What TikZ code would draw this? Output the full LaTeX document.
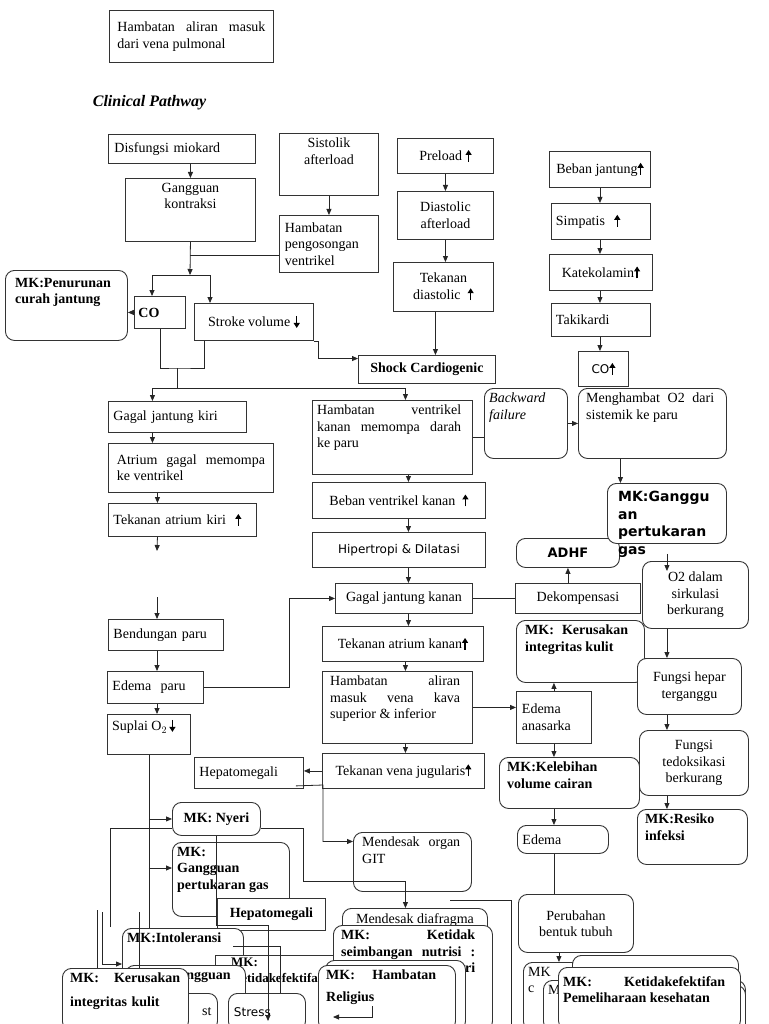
\documentclass[tikz,border=0pt]{standalone}
\usepackage{fontspec}
\setmainfont{Liberation Serif}
\newfontfamily\sansf{DejaVu Sans}
\usepackage{tikz}
\usetikzlibrary{positioning,arrows.meta}
\hyphenpenalty=10000
\exhyphenpenalty=10000
\newcommand{\naik}{\tikz[baseline=0pt]\draw[line width=1.3pt,-{Triangle[length=5pt,width=6pt]}] (0pt,-1pt) -- (0pt,11pt);}
\newcommand{\turun}{\tikz[baseline=0pt]\draw[line width=1.3pt,-{Triangle[length=5pt,width=6pt]}] (0pt,11pt) -- (0pt,-1pt);}

\begin{document}
\fontsize{14}{16.5}\selectfont
\begin{tikzpicture}[x=1pt,y=-1pt,
	kotak/.style={draw=black!80, line width=0.9pt, fill=white, inner sep=4pt, anchor=north west},
	bulat/.style={kotak, rounded corners=9pt},
	isi/.style={anchor=north west, inner sep=5pt},
	tengah/.style={anchor=north, inner sep=5pt, align=center},
	tebal/.style={font=\bfseries},
	sans/.style={font=\sansf\fontsize{12}{15}\selectfont},
	panah/.style={draw=black!85, line width=0.8pt, -{Triangle[length=6pt,width=5pt]}},
	garis/.style={draw=black!85, line width=0.8pt}]
	\fill[white] (0,0) rectangle (768,1024);
	\useasboundingbox (0,0) rectangle (768,1024);

	\node[kotak, minimum width=164pt, minimum height=52pt, text width=148pt, align=justify] (hav) at (109,10) {Hambatan aliran masuk dari vena pulmonal};
	\node[anchor=west, font=\bfseries\itshape\fontsize{16}{18}\selectfont] (judul) at (88,103) {Clinical Pathway};

	% kolom kiri atas
	\node[kotak, minimum width=147pt, minimum height=29pt, text width=135pt, align=left] (dm) at (108,134) {Disfungsi miokard};
	\node[kotak, minimum width=130pt, minimum height=63pt, label={[tengah]north:{Gangguan\\kontraksi}}] (gk) at (125,178) {};
	\node[kotak, minimum width=99pt, minimum height=62pt, label={[tengah]north:{Sistolik\\afterload}}] (sa) at (279,133) {};
	\node[kotak, minimum width=99pt, minimum height=57pt, text width=88pt, align=left] (hp) at (279,215) {Hambatan\\pengosongan\\ventrikel};
	\node[kotak, minimum width=96pt, minimum height=35pt] (pre) at (397,138) {Preload \naik};
	\node[kotak, minimum width=96pt, minimum height=48pt, align=center] (da) at (397,191) {Diastolic\\afterload};
	\node[kotak, minimum width=100pt, minimum height=49pt, align=center] (td) at (393,262) {Tekanan\\diastolic \ \naik};
	\node[kotak, minimum width=101pt, minimum height=36pt] (bj) at (549,151) {Beban jantung\naik};
	\node[kotak, minimum width=99pt, minimum height=36pt, text width=90pt, align=left] (si) at (551,203) {Simpatis \ \naik};
	\node[kotak, minimum width=103pt, minimum height=36pt] (ka) at (549,254) {Katekolamin\naik};
	\node[kotak, minimum width=99pt, minimum height=33pt, text width=90pt, align=left] (ta) at (551,303) {Takikardi};
	\node[kotak, minimum width=50pt, minimum height=35pt, sans] (coup) at (578,351) {CO\naik};

	\node[bulat, minimum width=122pt, minimum height=70pt, label={[isi, tebal, align=left, xshift=5pt, yshift=-3pt]north west:{MK:Penurunan\\curah jantung}}] (mkpj) at (5,270) {};
	\node[kotak, minimum width=51pt, minimum height=32pt, tebal, text width=43pt, align=left] (co) at (134,296) {CO};
	\node[kotak, minimum width=119pt, minimum height=37pt] (sv) at (194,303) {Stroke volume \turun};
	\node[kotak, minimum width=137pt, minimum height=28pt, tebal] (sc) at (358,355) {Shock Cardiogenic};

	% jantung kiri
	\node[kotak, minimum width=138pt, minimum height=31pt, text width=128pt, align=left] (gjki) at (108,401) {Gagal jantung kiri};
	\node[kotak, minimum width=165pt, minimum height=49pt, text width=148pt, align=justify] (agm) at (108,443) {Atrium gagal memompa ke ventrikel};
	\node[kotak, minimum width=148pt, minimum height=33pt, text width=138pt, align=left] (tak) at (108,503) {Tekanan atrium kiri \ \naik};
	\node[kotak, minimum width=115pt, minimum height=31pt, text width=105pt, align=left] (bp) at (108,619) {Bendungan paru};
	\node[kotak, minimum width=96pt, minimum height=32pt, text width=86pt, align=left] (ep) at (107,671) {Edema~~paru};
	\node[kotak, minimum width=83pt, minimum height=40pt, label={[isi]north west:{Suplai O$_2$\,\turun}}] (so) at (107,714) {};
	\node[kotak, minimum width=109pt, minimum height=31pt, text width=99pt, align=left] (hm) at (194,757) {Hepatomegali};

	% jantung kanan
	\node[kotak, minimum width=160pt, minimum height=74pt, label={[isi, text width=144pt, align=justify]north west:{Hambatan ventrikel kanan memompa darah ke paru}}] (hvk) at (312,400) {};
	\node[bulat, minimum width=83pt, minimum height=70pt, label={[isi, font=\itshape, align=left]north west:{Backward\\failure}}] (bf) at (484,388) {};
	\node[bulat, minimum width=148pt, minimum height=70pt, label={[isi, text width=128pt, align=justify, xshift=3pt]north west:{Menghambat O2 dari sistemik ke paru}}] (mo) at (578,388) {};
	\node[kotak, minimum width=173pt, minimum height=36pt] (bvk) at (312,482) {Beban ventrikel kanan \ \naik};
	\node[kotak, minimum width=173pt, minimum height=35pt, sans] (hd) at (312,532) {Hipertropi \& Dilatasi};
	\node[bulat, minimum width=103pt, minimum height=29pt, font=\sansf\bfseries\fontsize{13}{16}\selectfont] (adhf) at (516,538) {ADHF};
	\node[bulat, minimum width=119pt, minimum height=60pt, label={[isi, text width=105pt, align=left, xshift=6pt, yshift=-3pt, font=\sansf\bfseries\fontsize{14}{17.5}\selectfont]north west:{MK:Ganggu\\an\\pertukaran\\gas}}] (mkgg) at (607,483) {};
	\node[bulat, minimum width=106pt, minimum height=67pt, align=center] (o2) at (642,561) {O2 dalam\\sirkulasi\\berkurang};
	\node[kotak, minimum width=137pt, minimum height=30pt] (gjka) at (335,583) {Gagal jantung kanan};
	\node[kotak, minimum width=125pt, minimum height=30pt] (dek) at (515,583) {Dekompensasi};
	\node[bulat, minimum width=128pt, minimum height=62pt, label={[isi, tebal, text width=103pt, align=justify, xshift=4pt]north west:{MK: Kerusakan integritas kulit}}] (mkki) at (516,620) {};
	\node[kotak, minimum width=161pt, minimum height=35pt] (tka) at (322,626) {Tekanan atrium kanan\naik};
	\node[bulat, minimum width=104pt, minimum height=56pt, align=center] (fh) at (637,658) {Fungsi hepar\\terganggu};
	\node[kotak, minimum width=150pt, minimum height=72pt, label={[isi, text width=130pt, align=justify, xshift=3pt]north west:{Hambatan aliran masuk vena kava superior \& inferior}}] (hak) at (322,671) {};
	\node[kotak, minimum width=75pt, minimum height=52pt, text width=64pt, align=left] (ea) at (516,691) {Edema\\anasarka};
	\node[bulat, minimum width=109pt, minimum height=65pt, align=center] (ft) at (639,730) {Fungsi\\tedoksikasi\\berkurang};
	\node[kotak, minimum width=162pt, minimum height=35pt] (tvj) at (322,753) {Tekanan vena jugularis\naik};
	\node[bulat, minimum width=140pt, minimum height=51pt, label={[isi, tebal, align=left, xshift=3pt]north west:{MK:Kelebihan\\volume cairan}}] (mkkv) at (499,757) {};
	\node[bulat, minimum width=110pt, minimum height=55pt, label={[isi, tebal, align=left, xshift=3pt]north west:{MK:Resiko\\infeksi}}] (mkri) at (637,809) {};
	\node[bulat, minimum width=91pt, minimum height=28pt, text width=81pt, align=left] (ed) at (517,825) {Edema};

	% bagian bawah
	\node[bulat, minimum width=88pt, minimum height=33pt, tebal] (mkn) at (172,802) {MK: Nyeri};
	\node[bulat, minimum width=117pt, minimum height=74pt, label={[isi, tebal, align=left]north west:{MK:\\Gangguan\\pertukaran gas}}] (mkgp) at (172,842) {};
	\node[bulat, minimum width=118pt, minimum height=59pt, label={[isi, text width=98pt, align=justify, xshift=4pt]north west:{Mendesak organ GIT}}] (mog) at (353,832) {};
	\node[bulat, minimum width=115pt, minimum height=58pt, align=center] (pbt) at (518,894) {Perubahan\\bentuk tubuh};
	\node[kotak, minimum width=108pt, minimum height=32pt, tebal] (hm2) at (217,898) {Hepatomegali};
	\node[bulat, minimum width=121pt, minimum height=100pt, label={[isi, tebal, align=left]north west:{MK:Intoleransi}}] (mkint) at (122,928) {};
	\node[kotak, minimum width=127pt, minimum height=75pt, label={[isi, align=left, xshift=11pt, yshift=2pt, font=\bfseries\fontsize{13}{16}\selectfont]north west:{MK:\\Ketidakefektifa}}] (mkke) at (215,955) {};
	\node[bulat, minimum width=120pt, minimum height=65pt, label={[isi, tebal, align=right, anchor=north east, xshift=-10pt, yshift=-2pt]north east:{ngguan}}] (mkg2) at (125,965) {};
	\node[bulat, minimum width=145pt, minimum height=52pt, label={[tengah]north:{Mendesak diafragma}}] (md) at (342,908) {};
	\node[bulat, minimum width=159pt, minimum height=105pt, label={[isi, tebal, text width=134pt, align=justify, xshift=3pt]north west:{MK: Ketidak seimbangan nutrisi :\break\hspace*{\fill}ari}}] (mkns) at (333,925) {};
	\node[bulat, minimum width=140pt, minimum height=70pt] (mkr2) at (325,960) {};
	\node[bulat, minimum width=137pt, minimum height=65pt, label={[isi, tebal, text width=110pt, align=left, xshift=3pt]north west:{MK:\hfill Hambatan\\[5pt]Religius}}] (mkir) at (318,965) {};
	\node[bulat, minimum width=42pt, minimum height=37pt, text width=30pt, align=right] (xst) at (175,993) {st};
	\node[bulat, minimum width=77pt, minimum height=37pt, sans, text width=66pt, align=left] (stress) at (228,993) {Stress};
	\node[bulat, minimum width=126pt, minimum height=62pt, label={[isi, tebal, text width=110pt, align=left, xshift=3pt]north west:{MK:\hfill Kerusakan\\[7pt]integritas kulit}}] (mkkik) at (62,968) {};

	\node[bulat, minimum width=77pt, minimum height=68pt, label={[isi, align=left]north west:{MK\\c}}] (pk1) at (523,962) {};
	\node[bulat, minimum width=166pt, minimum height=75pt] (pk2) at (572,955) {};
	\node[bulat, minimum width=202pt, minimum height=50pt, label={[isi]north west:{M}}] (pk3) at (543,980) {};
	\node[bulat, minimum width=168pt, minimum height=50pt] (pk4) at (577,985) {};
	\node[bulat, minimum width=182pt, minimum height=62pt, label={[isi, tebal, text width=162pt, align=justify, yshift=-4pt]north west:{MK: Ketidakefektifan Pemeliharaan kesehatan}}] (pk5) at (558,967) {};

	% titik bantu
	\coordinate (pisah) at (190,275);
	\coordinate (gabung) at (177,368);
	\coordinate (cabang) at (177,388);
	\coordinate (ujungkiri) at (157,551);
	\coordinate (awalkiri) at (157,597);
	\coordinate (belok) at (289,687);
	\coordinate (sudut) at (323,785);
	\coordinate (lewat) at (303,881);
	\coordinate (kiri1) at (110,927);
	\coordinate (bawah1) at (268,1021);
	\coordinate (intol) at (233,946);
	\coordinate (garisA) at (97,910);
	\coordinate (garisB) at (139,912);
	\coordinate (garisC) at (102,912);
	\coordinate (kananA) at (450,900);
	\coordinate (kananB) at (511,1024);
	\coordinate (rel) at (372,1006);
	\coordinate (rel2) at (333,1017);

	% panah
	\draw[panah] (dm.south -| gk.north) -- (gk.north);
	\draw[panah] (sa.south) -- (hp.north);
	\draw[panah] (gk.south) -- (pisah);
	\draw[garis] ([yshift=-11pt]hp.west) -- ([yshift=-11pt]hp.west -| gk.south);
	\draw[garis] ([xshift=-38pt]pisah) -- ([xshift=20pt]pisah);
	\draw[panah] ([xshift=-38pt]pisah) -- ([xshift=-38pt]pisah |- co.north);
	\draw[panah] ([xshift=20pt]pisah) -- ([xshift=20pt]pisah |- sv.north);
	\draw[panah] (co.west) -- (co.west -| mkpj.east);
	\draw[garis] (co.south) |- (gabung) -| ([xshift=-50pt]sv.south);
	\draw[garis] (gabung) -- (cabang);
	\draw[panah] (cabang) -| ([xshift=-25pt]gjki.north);
	\draw[panah] (cabang) -| ([xshift=13pt]hvk.north);
	\draw[panah] (sv.south east) -- ++(4,0) |- (sc.171);
	\draw[panah] (pre) -- (da);
	\draw[panah] (da) -- (da |- td.north);
	\draw[panah] ([xshift=-8pt]td.south) -- ([xshift=-8pt]td.south |- sc.north);
	\draw[panah] (bj.south) -- (bj.south |- si.north);
	\draw[panah] (bj.south |- si.south) -- (bj.south |- ka.north);
	\draw[panah] (bj.south |- ka.south) -- (bj.south |- ta.north);
	\draw[panah] (bj.south |- ta.south) -- (bj.south |- coup.north);

	\draw[panah] ([xshift=-25pt]gjki.south) -- ([xshift=-25pt]gjki.south |- agm.north);
	\draw[panah] ([xshift=-20pt]gjki.south |- agm.south) -- ([xshift=-20pt]gjki.south |- tak.north);
	\draw[panah] ([xshift=-20pt]gjki.south |- tak.south) -- (ujungkiri);
	\draw[panah] (awalkiri) -- (awalkiri |- bp.north);
	\draw[panah] (awalkiri |- bp.south) -- (awalkiri |- ep.north);
	\draw[panah] (awalkiri |- ep.south) -- (awalkiri |- so.north);
	\draw[panah] (ep.east) -- (ep.east -| belok) |- (gjka.west);

	\draw[garis] (hvk.east) -- (hvk.east -| bf.west);
	\draw[panah] (bf) -- (mo);
	\draw[panah] ([xshift=-32pt]mo.south) -- ([xshift=-32pt]mo.south |- mkgg.north);
	\draw[panah] ([xshift=16pt]hvk.south) -- ([xshift=16pt]hvk.south |- bvk.north);
	\draw[panah] ([xshift=16pt]hvk.south |- bvk.south) -- ([xshift=16pt]hvk.south |- hd.north);
	\draw[panah] ([xshift=16pt]hvk.south |- hd.south) -- ([xshift=16pt]hvk.south |- gjka.north);
	\draw[panah] ([xshift=16pt]hvk.south |- gjka.south) -- ([xshift=16pt]hvk.south |- tka.north);
	\draw[panah] ([xshift=13pt]hvk.south |- tka.south) -- ([xshift=13pt]hvk.south |- hak.north);
	\draw[panah] ([xshift=13pt]hvk.south |- hak.south) -- ([xshift=13pt]hvk.south |- tvj.north);
	\draw[garis] (gjka.east) -- (dek.west);
	\draw[panah] (dek.north -| adhf.south) -- (adhf.south);
	\draw[panah] ([yshift=-10pt]mkgg.south) -- ([yshift=-10pt]mkgg.south |- o2.north);
	\draw[panah] (mkgg.south |- o2.south) -- (mkgg.south |- fh.north);
	\draw[panah] (mkgg.south |- fh.south) -- (mkgg.south |- ft.north);
	\draw[panah] (mkgg.south |- ft.south) -- (mkgg.south |- mkri.north);
	\draw[panah] (hak.east) -- (hak.east -| ea.west);
	\draw[panah] (ea.north) -- (ea.north |- mkki.south);
	\draw[panah] (ea.south) -- (ea.south |- mkkv.north);
	\draw[panah] (ea.south |- mkkv.south) -- (ea.south |- ed.north);
	\draw[garis] (ea.south |- ed.south) -- (ea.south |- pbt.north);
	\draw[panah] ([xshift=5pt]ea.south |- pbt.south) -- ([xshift=5pt]ea.south |- pk1.north);
	\draw[panah] (tvj.west) -- (tvj.west -| hm.east);
	\draw[panah] ([xshift=-8pt,yshift=3pt]hm.south east) -- (sudut) |- (mog.161);

	\draw[garis] (so.south) -- (so.south |- mkint.north);
	\draw[panah] (so.south |- mkn.west) -- (mkn.west);
	\draw[panah] (so.south |- mkgp.169) -- (mkgp.169);
	\draw[panah] ([yshift=-9.5pt]mkn.east) -| (lewat) -| ([xshift=-9.5pt]md.north);
	\draw[garis] (kiri1) |- ([yshift=-9.5pt]mkn.west);
	\draw[panah] (mkn.south) |- (bawah1 |- 0,925) -- (bawah1);
	\draw[garis] (intol) -| ([xshift=13.5pt]stress.north);
	\draw[garis] (garisA) -- (garisA |- mkkik.north);
	\draw[garis] (garisB) -- (garisB |- mkkik.north);
	\draw[panah] (garisC) |- (mkint.west |- 0,964);
	\draw[garis] (kananA) -| (kananB);
	\draw[panah] (rel) |- (rel2);
\end{tikzpicture}
\end{document}
